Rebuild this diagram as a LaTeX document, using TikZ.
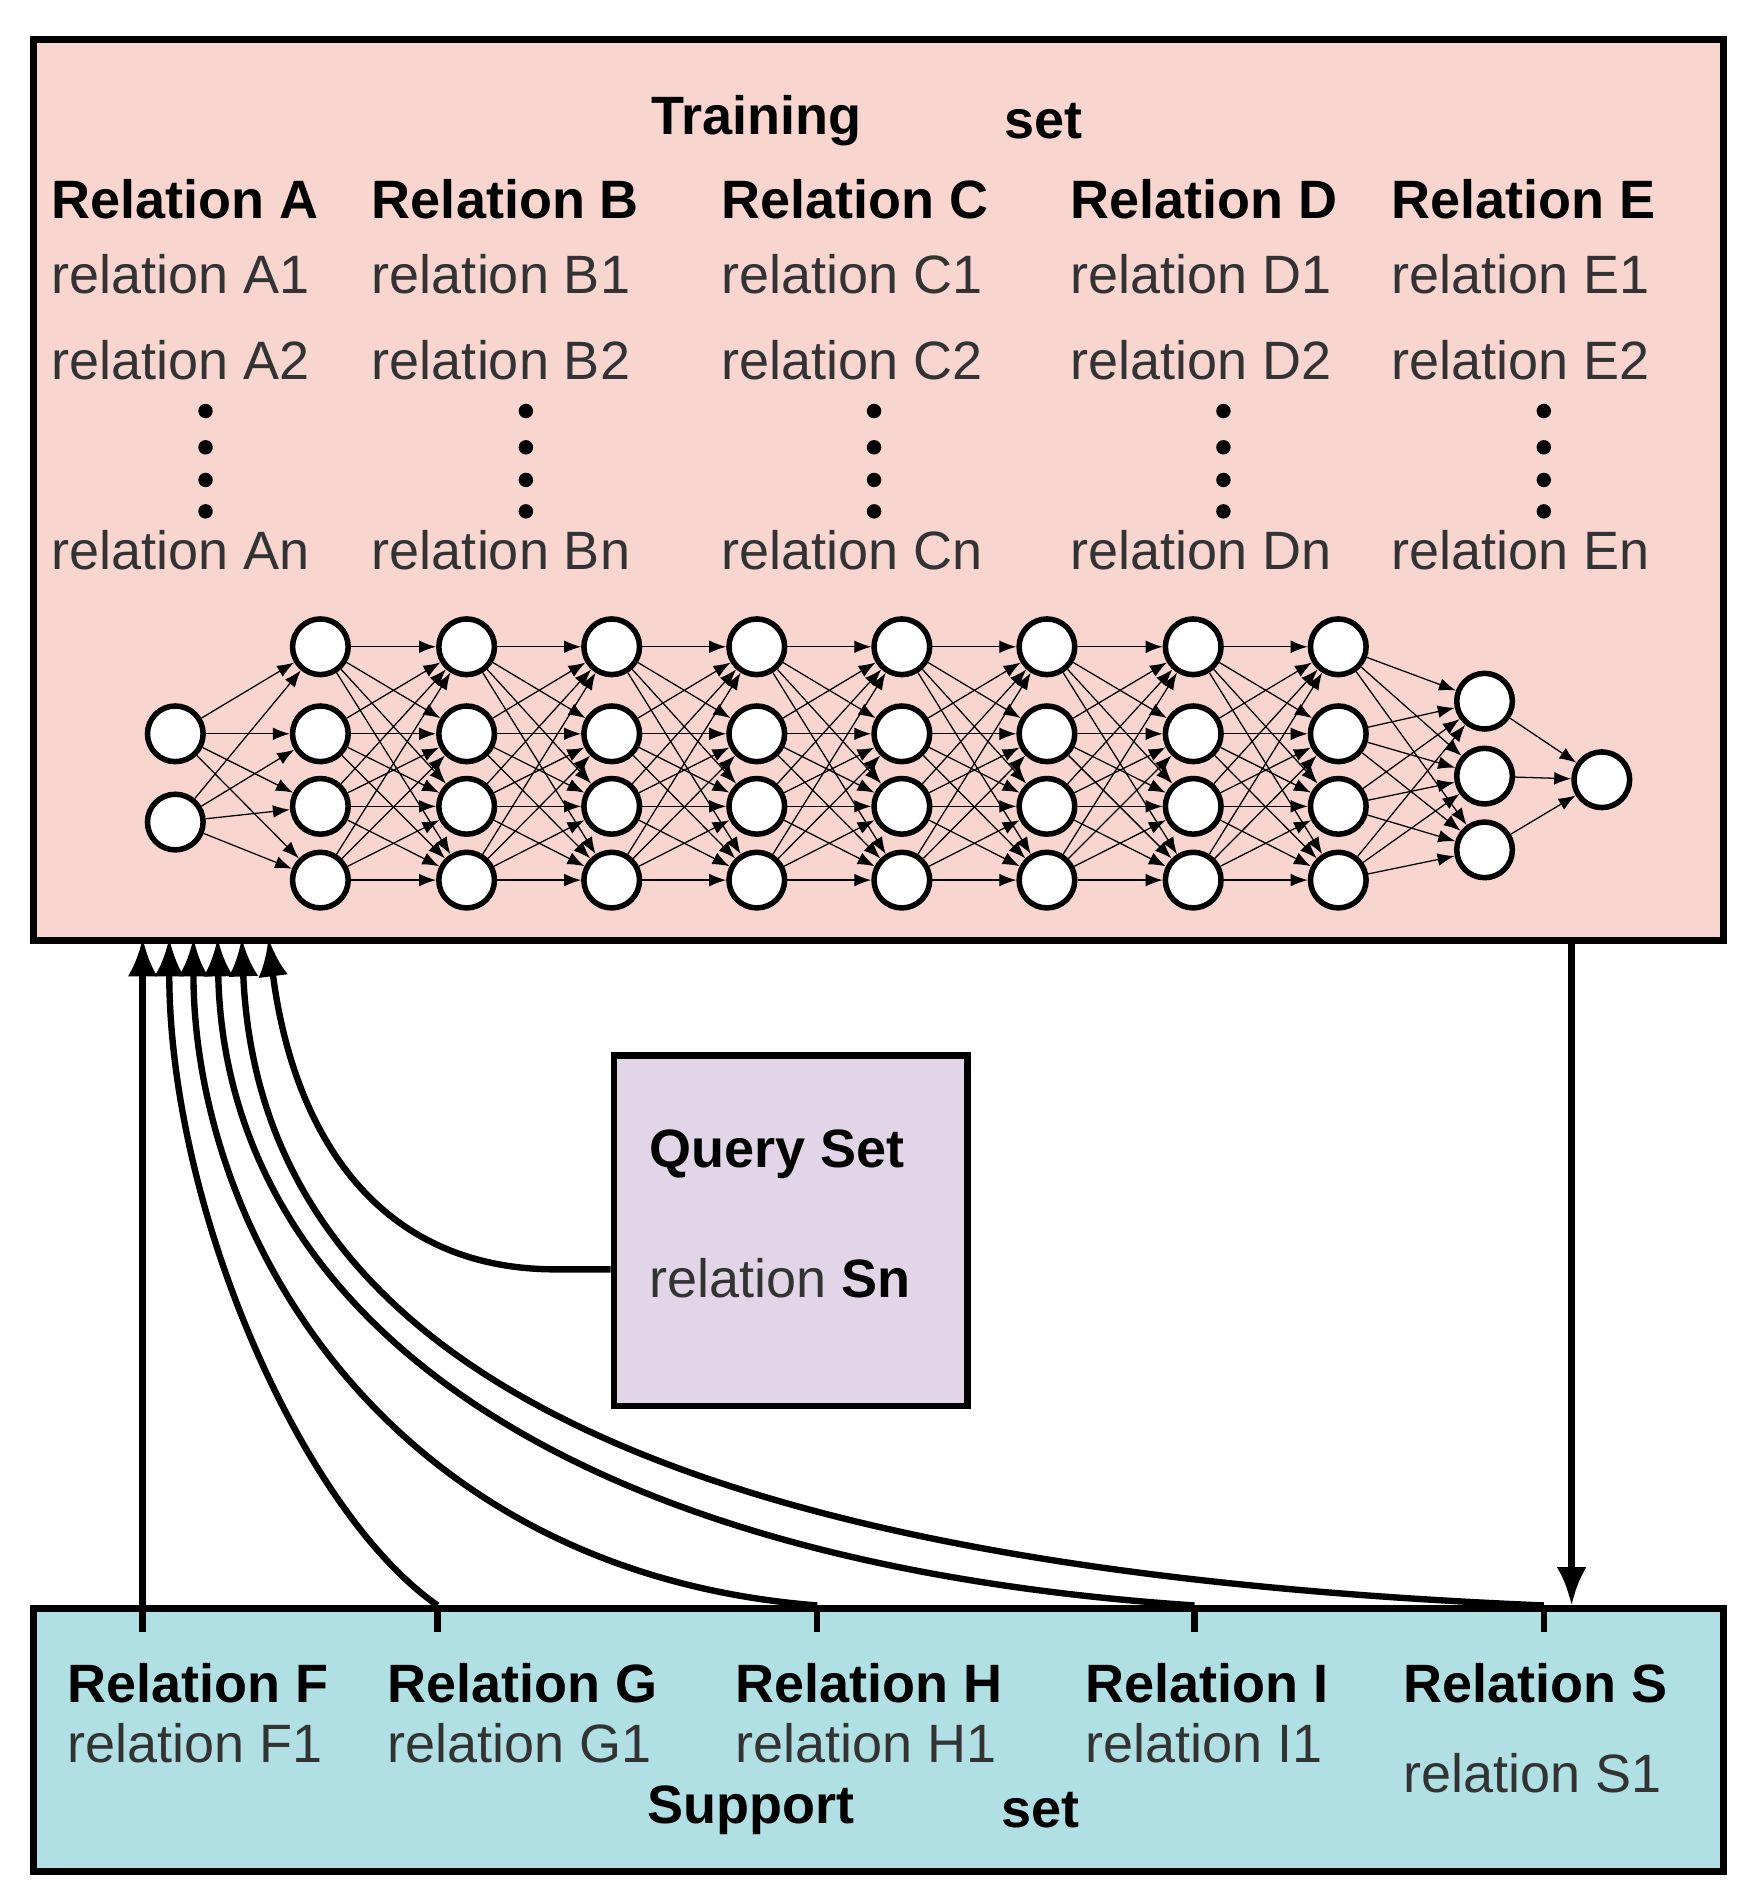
\documentclass[tikz,border=0pt]{standalone}
\usepackage{fontspec}
\setmainfont{Liberation Sans}
\usetikzlibrary{arrows.meta}
\definecolor{trainpink}{HTML}{F8D5CF}
\definecolor{supcyan}{HTML}{B0E0E3}
\definecolor{querylil}{HTML}{E1D5E7}
\begin{document}
\begin{tikzpicture}[x=0.01cm,y=-0.01cm,
  box/.style={draw,line width=1.6pt,inner sep=0pt},
  hd/.style={anchor=west,inner sep=0pt,font=\fontsize{12.7}{15}\selectfont\bfseries},
  rl/.style={anchor=west,inner sep=0pt,font=\fontsize{12.7}{15}\selectfont,text=black!80},
  neuron/.style={circle,draw,line width=1.3pt,fill=white,minimum size=0.46cm,inner sep=0pt},
  syn/.style={-{Latex[length=4pt,width=3pt]},line width=0.3pt},
  flow/.style={-{Latex[length=9pt,width=7pt]},line width=1.5pt}]
\useasboundingbox (0,0) rectangle (1445,1570);
% boxes
\node[box,fill=trainpink,minimum width=13.97cm,minimum height=7.45cm,anchor=north west] (train) at (25,30) {};
\node[box,fill=supcyan,minimum width=13.97cm,minimum height=2.17cm,anchor=north west] (sup) at (25,1328) {};
\node[box,fill=querylil,minimum width=2.92cm,minimum height=2.90cm,anchor=north west] (query) at (505,870) {};
% training text
\node[hd] (tt1) at (538,100) {Training};
\node[hd] (tt2) at (830,100) {set};
\foreach \x/\dx/\L in {42/170/A,307/435/B,596/723/C,885/1012/D,1150/1277/E}{
  \node[hd] (h\L) at (\x,165) {Relation \L};
  \node[rl] (r\L1) at (\x,227) {relation \L1};
  \node[rl] (r\L2) at (\x,298) {relation \L2};
  \node[rl] (r\L n) at (\x,455) {relation \L n};
  \foreach \y in {340,370,397,423}{\fill (\dx,\y) circle (1.7pt);}
}
% network
\foreach \i/\y in {1/607,2/680}{\node[neuron] (n0-\i) at (145,\y) {};}
\foreach \l/\x in {1/265,2/386,3/506,4/626,5/746,6/866,7/987,8/1107}{
  \foreach \i/\y in {1/535,2/607,3/667,4/728}{\node[neuron] (n\l-\i) at (\x,\y) {};}}
\foreach \i/\y in {1/580,2/642,3/703}{\node[neuron] (n9-\i) at (1228,\y) {};}
\node[neuron] (n10-1) at (1325,645) {};
\foreach \i in {1,2}{\foreach \j in {1,...,4}{\draw[syn] (n0-\i) -- (n1-\j);}}
\foreach \l [evaluate=\l as \m using int(\l+1)] in {1,...,7}{
  \foreach \i in {1,...,4}{\foreach \j in {1,...,4}{\draw[syn] (n\l-\i) -- (n\m-\j);}}}
\foreach \i in {1,...,4}{\foreach \j in {1,...,3}{\draw[syn] (n8-\i) -- (n9-\j);}}
\foreach \i in {1,...,3}{\draw[syn] (n9-\i) -- (n10-1);}
% query text
\node[font=\fontsize{12.7}{15}\selectfont\bfseries] (qt) at (643,955) {Query Set};
\node[font=\fontsize{12.7}{15}\selectfont,text=black!80] (qr) at (645,1057) {relation \textbf{\color{black}Sn}};
% support text
\foreach \x/\L in {55/F,320/G,608/H,897/I}{
  \node[hd] (h\L) at (\x,1392) {Relation \L};
  \node[rl] (r\L1) at (\x,1442) {relation \L1};}
\node[hd] (hS) at (1160,1392) {Relation S};
\node[rl] (rS1) at (1160,1467) {relation S1};
\node[hd] (st1) at (535,1497) {Support};
\node[hd] (st2) at (828,1497) {set};
% ticks and connectors
\foreach \n/\x in {F/118,G/362,H/676,I/988,S/1277}{
  \coordinate (b\n) at (\x,1328);
  \draw[line width=1.5pt] (b\n) -- ++(0,22);}
\coordinate (tF) at (118,776);
\coordinate (tG) at (140,776);
\coordinate (tH) at (160,776);
\coordinate (tI) at (180,776);
\coordinate (tS) at (200,776);
\coordinate (tQ) at (222,776);
\coordinate (qW) at (505,1050);
\draw[flow] (bF) -- (tF);
\draw[flow] (bG) .. controls (250,1250) and (140,1000) .. (tG);
\draw[flow] (bH) .. controls (320,1300) and (160,1020) .. (tH);
\draw[flow] (bI) .. controls (420,1290) and (185,1060) .. (tI);
\draw[flow] (bS) .. controls (600,1300) and (215,1150) .. (tS);
\draw[flow] (qW) -- (460,1050) .. controls (300,1050) and (240,920) .. (tQ);
\coordinate (dTop) at (1300,776);
\coordinate (dBot) at (1300,1328);
\draw[flow] (dTop) -- (dBot);
\end{tikzpicture}
\end{document}
